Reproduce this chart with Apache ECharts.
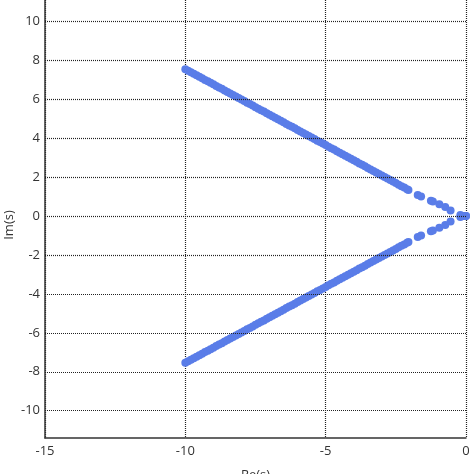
<!DOCTYPE html>
<html>
<head>
<meta charset="utf-8">
<script src="https://cdn.jsdelivr.net/npm/echarts@6/dist/echarts.min.js"></script>
<style>html,body{margin:0;padding:0;background:#fff}#c{width:474px;height:474px}</style>
</head>
<body>
<div id="c"></div>
<script>
var reUpper = [-10.0,-9.9,-9.8,-9.7,-9.6,-9.5,-9.4,-9.3,-9.2,-9.1,-9.0,-8.9,-8.8,-8.7,-8.6,-8.5,-8.4,-8.3,-8.2,-8.1,-8.0,-7.9,-7.8,-7.7,-7.6,-7.5,-7.4,-7.3,-7.2,-7.1,-7.0,-6.9,-6.8,-6.7,-6.6,-6.5,-6.4,-6.3,-6.2,-6.1,-6.0,-5.9,-5.8,-5.7,-5.6,-5.5,-5.4,-5.3,-5.2,-5.1,-5.0,-4.9,-4.8,-4.7,-4.6,-4.5,-4.4,-4.3,-4.2,-4.1,-4.0,-3.9,-3.8,-3.7,-3.6,-3.5,-3.4,-3.3,-3.2,-3.1,-3.0,-2.9,-2.8,-2.7,-2.6,-2.5,-2.4,-2.3,-2.2,-2.1,-2.05,-1.72,-1.6,-1.25,-1.18,-0.95,-0.74,-0.55,-0.2,-0.08,0.0];
var imUpper = [7.54,7.46,7.38,7.31,7.23,7.15,7.07,6.99,6.92,6.84,6.76,6.68,6.60,6.53,6.45,6.37,6.29,6.21,6.14,6.06,5.98,5.90,5.82,5.75,5.67,5.59,5.51,5.43,5.36,5.28,5.20,5.12,5.04,4.97,4.89,4.81,4.73,4.65,4.58,4.50,4.42,4.34,4.26,4.19,4.11,4.03,3.95,3.87,3.80,3.72,3.64,3.56,3.48,3.41,3.33,3.25,3.17,3.09,3.02,2.94,2.86,2.78,2.70,2.63,2.55,2.47,2.39,2.31,2.24,2.16,2.08,2.00,1.92,1.85,1.77,1.69,1.61,1.53,1.46,1.38,1.34,1.08,1.00,0.78,0.74,0.60,0.46,0.28,0.05,0.00,0.00];
var reLower = [-10.0,-9.9,-9.8,-9.7,-9.6,-9.5,-9.4,-9.3,-9.2,-9.1,-9.0,-8.9,-8.8,-8.7,-8.6,-8.5,-8.4,-8.3,-8.2,-8.1,-8.0,-7.9,-7.8,-7.7,-7.6,-7.5,-7.4,-7.3,-7.2,-7.1,-7.0,-6.9,-6.8,-6.7,-6.6,-6.5,-6.4,-6.3,-6.2,-6.1,-6.0,-5.9,-5.8,-5.7,-5.6,-5.5,-5.4,-5.3,-5.2,-5.1,-5.0,-4.9,-4.8,-4.7,-4.6,-4.5,-4.4,-4.3,-4.2,-4.1,-4.0,-3.9,-3.8,-3.7,-3.6,-3.5,-3.4,-3.3,-3.2,-3.1,-3.0,-2.9,-2.8,-2.7,-2.6,-2.5,-2.4,-2.3,-2.2,-2.1,-2.05,-1.72,-1.6,-1.25,-1.18,-0.95,-0.74,-0.55,-0.2,-0.08,0.0];
var imLower = [-7.54,-7.46,-7.38,-7.31,-7.23,-7.15,-7.07,-6.99,-6.92,-6.84,-6.76,-6.68,-6.60,-6.53,-6.45,-6.37,-6.29,-6.21,-6.14,-6.06,-5.98,-5.90,-5.82,-5.75,-5.67,-5.59,-5.51,-5.43,-5.36,-5.28,-5.20,-5.12,-5.04,-4.97,-4.89,-4.81,-4.73,-4.65,-4.58,-4.50,-4.42,-4.34,-4.26,-4.19,-4.11,-4.03,-3.95,-3.87,-3.80,-3.72,-3.64,-3.56,-3.48,-3.41,-3.33,-3.25,-3.17,-3.09,-3.02,-2.94,-2.86,-2.78,-2.70,-2.63,-2.55,-2.47,-2.39,-2.31,-2.24,-2.16,-2.08,-2.00,-1.92,-1.85,-1.77,-1.69,-1.61,-1.53,-1.46,-1.38,-1.34,-1.08,-1.00,-0.78,-0.74,-0.60,-0.46,-0.28,-0.05,0.00,0.00];
var yTicks = [-10,-8,-6,-4,-2,0,2,4,6,8,10];
var xTicks = [-15,-10,-5,0];

function pairs(re, im){ var out=[]; for(var i=0;i<re.length;i++) out.push([re[i], im[i]]); return out; }

var FONT = "'Open Sans',sans-serif";
var gridStyle = {color:'#222', width:1.2, type:[1,1]};

var chart = echarts.init(document.getElementById('c'), null, {renderer:'canvas'});
chart.setOption({
  animation:false,
  backgroundColor:'#fff',
  grid:{left:45, right:8, top:-6, bottom:36, containLabel:false, outerBoundsMode:'none'},
  xAxis:{
    type:'value', min:-15, max:0, interval:5,
    name:'Re(s)', nameLocation:'middle', nameGap:31, nameMoveOverlap:false,
    nameTextStyle:{fontFamily:FONT, fontSize:13, color:'#333'},
    axisLine:{show:true, onZero:false, lineStyle:{color:'#333', width:1.5}},
    axisTick:{show:false},
    axisLabel:{fontFamily:FONT, fontSize:13, color:'#333', margin:7,
      customValues:xTicks},
    splitLine:{show:true, lineStyle:gridStyle}
  },
  yAxis:{
    type:'value', min:-11.4, max:11.4,
    name:'Im(s)', nameLocation:'middle', nameGap:29, nameRotate:90, nameMoveOverlap:false,
    nameTextStyle:{fontFamily:FONT, fontSize:13, color:'#333', padding:[0,18,0,0]},
    axisLine:{show:true, onZero:false, lineStyle:{color:'#333', width:1.5}},
    axisTick:{show:false, customValues:yTicks},
    axisLabel:{fontFamily:FONT, fontSize:13, color:'#333', margin:5,
      customValues:yTicks},
    splitLine:{show:false}
  },
  series:[
    {
      type:'scatter', symbol:'circle', symbolSize:8,
      itemStyle:{color:'#5a7de8', opacity:1},
      data:pairs(reUpper, imUpper),
      markLine:{
        silent:true, symbol:['none','none'], label:{show:false},
        lineStyle:gridStyle, animation:false,
        data:yTicks.map(function(v){return {yAxis:v};})
      },
      z:3
    },
    {
      type:'scatter', symbol:'circle', symbolSize:8,
      itemStyle:{color:'#5a7de8', opacity:1},
      data:pairs(reLower, imLower),
      z:3
    }
  ]
});
</script>
</body>
</html>
